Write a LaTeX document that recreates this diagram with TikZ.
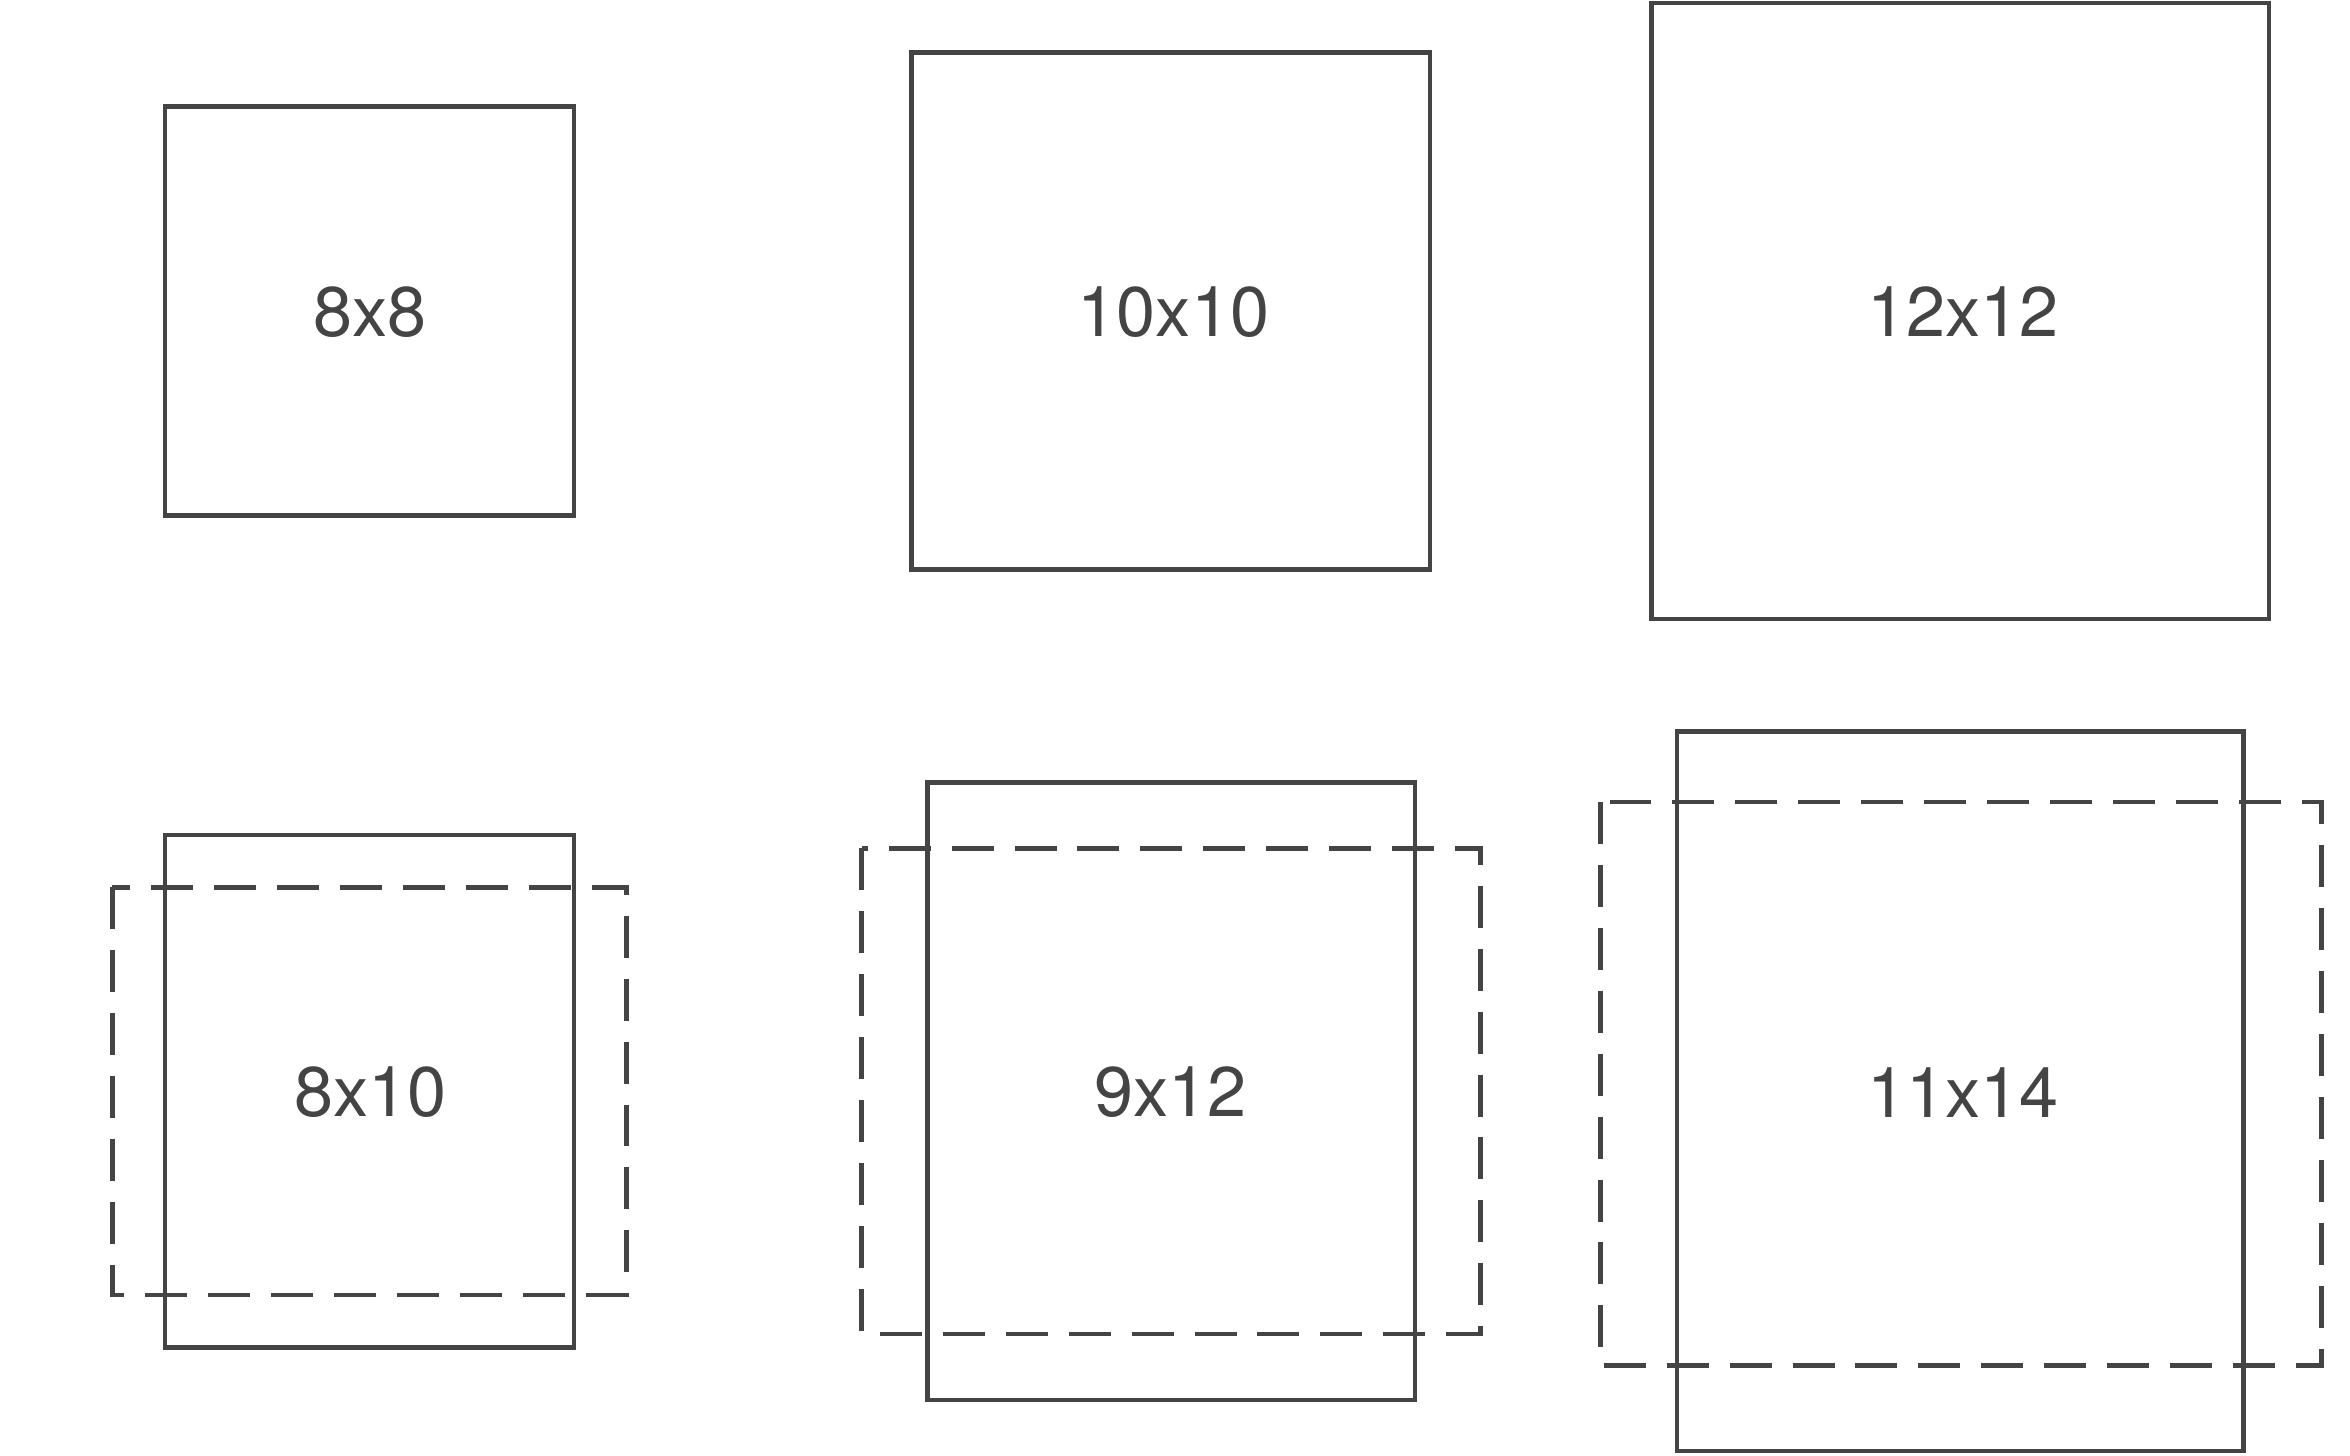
\documentclass[tikz,border=0pt]{standalone}
\usepackage{fontspec}
\setmainfont{TeX Gyre Heros}
\usepackage{tikz}
\usetikzlibrary{positioning}
\definecolor{ink}{HTML}{444444}
\begin{document}
\begin{tikzpicture}[x=0.015cm,y=-0.015cm,
  frame/.style={draw=ink,line width=1.3pt},
  crop/.style={draw=ink,line width=1.3pt,dash pattern=on 0.42cm off 0.21cm},
  size/.style={text=ink,font=\fontsize{20}{24}\selectfont}]
\useasboundingbox (0,0) rectangle (1568,971);

% square prints
\draw[frame] (110,71) rectangle (383,344);
\draw[frame] (608,35) rectangle (954,380);
\draw[frame] (1102,2) rectangle (1514,413);
\node[size] (s8) at (247,208) {8x8};
\node[size] (s10) at (783,208) {10x10};
\node[size] (s12) at (1310,208) {12x12};

% portrait prints with square crop
\draw[frame] (110,557) rectangle (383,899);
\draw[crop] (75,592) rectangle (418,864);
\draw[frame] (619,522) rectangle (944,934);
\draw[crop] (575,566) rectangle (988,890);
\draw[frame] (1119,488) rectangle (1497,968);
\draw[crop] (1068,535) rectangle (1549,911);
\node[size] (p810) at (247,729) {8x10};
\node[size] (p912) at (781,729) {9x12};
\node[size] (p1114) at (1310,729) {11x14};
\end{tikzpicture}
\end{document}
